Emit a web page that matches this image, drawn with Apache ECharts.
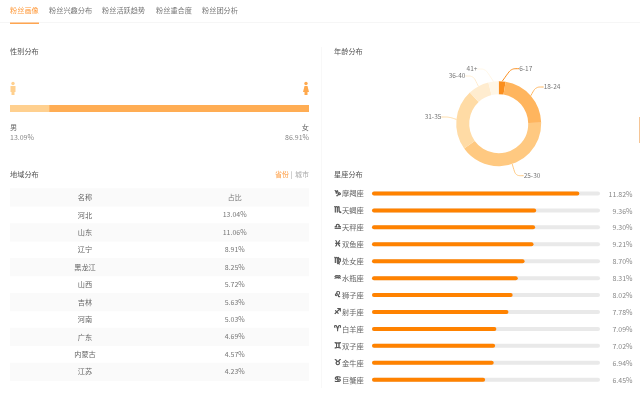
<!DOCTYPE html>
<html><head><meta charset="utf-8">
<style>html,body{margin:0;padding:0;background:#fff}#c{width:640px;height:396px}</style>
<script src="https://cdn.jsdelivr.net/npm/echarts@6/dist/echarts.min.js"></script>
</head><body><div id="c"></div>
<script>
const tabs=['粉丝画像','粉丝兴趣分布','粉丝活跃趋势','粉丝重合度','粉丝团分析'];
const tabX=[10,49,102,156,202];
const genderNames=['男','女'];
const genderValues=[13.09,86.91];
const ageNames=['6-17','18-24','25-30','31-35','36-40','41+'];
const ageValues=[2.6,22,40.5,23,8,3.9];
const ageColors=['#FA8E1E','#FFB55E','#FFC981','#FFDBA5','#FFECCF','#FFF6E6'];
const provinces=['河北','山东','辽宁','黑龙江','山西','吉林','河南','广东','内蒙古','江苏'];
const provinceValues=[13.04,11.06,8.91,8.25,5.72,5.63,5.03,4.69,4.57,4.23];
const signs=['摩羯座','天蝎座','天秤座','双鱼座','处女座','水瓶座','狮子座','射手座','白羊座','双子座','金牛座','巨蟹座'];
const signGlyphs=['♑','♏','♎','♓','♍','♒','♌','♐','♈','♊','♉','♋'];
const signValues=[11.82,9.36,9.30,9.21,8.70,8.31,8.02,7.78,7.09,7.02,6.94,6.45];
const FONT='"Noto Sans CJK SC","Noto Sans",sans-serif';
const T=(x,y,text,fill,size,align)=>({type:'text',x,y,silent:true,style:{text,fill:fill||'#777',font:(size||7.2)+'px '+FONT,textAlign:align||'left',textVerticalAlign:'middle'}});
const R=(x,y,w,h,fill)=>({type:'rect',silent:true,shape:{x,y,width:w,height:h},style:{fill}});
const g=[];
tabs.forEach((t,i)=>g.push(T(tabX[i],10.5,t,i===0?'#FF9A3C':'#777',7.2)));
g.push(R(0,22,640,1,'#F6F6F6'),R(10,22.5,29,1.5,'#FFA550'));
g.push(R(321,47,1,341,'#F8F8F8'),R(639,117,1,26,'#F5C596'));
g.push(T(10,51,'性别分布','#555',7.2),T(334,51,'年龄分布','#555',7.2),T(10,174,'地域分布','#555',7.2),T(334,174,'星座分布','#555',7.2));
g.push(T(10,127,genderNames[0],'#666',7.2),T(10,137.5,genderValues[0].toFixed(2)+'%','#888',7));
g.push(T(309,127,genderNames[1],'#666',7.2,'right'),T(309,137.5,genderValues[1].toFixed(2)+'%','#888',7,'right'));
const person=(x,fill,skirt)=>[
 {type:'circle',silent:true,shape:{cx:x,cy:83.5,r:1.7},style:{fill}},
 skirt?{type:'polygon',silent:true,shape:{points:[[x-1.5,86],[x+1.5,86],[x+3,92],[x+1.5,92],[x+1.5,95],[x-1.5,95],[x-1.5,92],[x-3,92]]},style:{fill}}
      :R(x-2.5,86,5,6,fill),
 ...(skirt?[]:[R(x-1.5,92,3,3,fill)])];
g.push(...person(13,'#FFD08F',false),...person(306,'#FFA94D',true));
g.push(T(275,174,'省份','#FF9A3C',7),T(290.8,174,'|','#999',7),T(295,174,'城市','#AAA',7));
const rowH=17.44,top0=188.3;
[['名称','占比']].concat(provinces.map((p,i)=>[p,provinceValues[i].toFixed(2)+'%'])).forEach((r,i)=>{
  if(i%2===0) g.push(R(10,top0+i*rowH,299,18.2,'#FAFAFA'));
  const y=top0+i*rowH+rowH/2+0.3;
  g.push(T(85,y,r[0],'#666',7.2,'center'),T(234.7,y,r[1],'#777',7,'center'));
});
const chart=echarts.init(document.getElementById('c'),null,{renderer:'canvas'});
const labelSpots=[[525.7,68.7],[552,87],[532,175.7],[433,117],[457,76],[472,69]];
chart.setOption({
 animation:false,
 graphic:{elements:g},
 grid:[
  {left:10,top:105,width:299,height:7},
  {left:372,top:185,width:228,height:203.2}
 ],
 xAxis:[
  {gridIndex:0,type:'value',min:0,max:100,show:false},
  {gridIndex:1,type:'value',min:0,max:13,show:false}
 ],
 yAxis:[
  {gridIndex:0,type:'category',data:['性别'],show:false},
  {gridIndex:1,type:'category',inverse:true,data:signs,axisLine:{show:false},axisTick:{show:false},
   axisLabel:{margin:38,align:'left',formatter:(v,i)=>'{g|'+signGlyphs[i]+'}{t|'+v+'}',
    rich:{g:{fontFamily:'"DejaVu Sans"',fontWeight:'bold',fontSize:8,lineHeight:10,color:'#555',textBorderColor:'#555',textBorderWidth:0.5,width:8},t:{fontFamily:FONT,fontSize:7.3,lineHeight:10,color:'#666'}}}},
 ],
 series:[
  {type:'bar',xAxisIndex:0,yAxisIndex:0,stack:'g',barWidth:7,data:[genderValues[0]],itemStyle:{color:'#FFD08F'},silent:true},
  {type:'bar',xAxisIndex:0,yAxisIndex:0,stack:'g',barWidth:7,data:[genderValues[1]],itemStyle:{color:'#FFAD54'},silent:true},
  {type:'bar',xAxisIndex:1,yAxisIndex:1,barWidth:4,data:signValues,silent:true,
   showBackground:true,backgroundStyle:{color:'#E9E9E9',borderRadius:2},
   itemStyle:{color:'#FF8200',borderRadius:2}},
  {type:'pie',center:[498.7,123.7],radius:[29.5,42.5],startAngle:90,clockwise:true,silent:true,
   data:ageNames.map((n,i)=>({name:n,value:ageValues[i],itemStyle:{color:ageColors[i]},labelLine:{lineStyle:{color:ageColors[i]}}})),
   label:{color:'#777',fontSize:6.5,fontFamily:FONT,formatter:'{b}'},
   labelLine:{show:true,length:6,length2:8,smooth:0.3,lineStyle:{width:1}},
   labelLayout:p=>{const s=labelSpots[p.dataIndex];return {x:s[0],y:s[1],align:'center',verticalAlign:'middle'};}}
 ]
});
chart.setOption({graphic:{elements:g.concat(signValues.map((v,i)=>T(632.5,chart.convertToPixel({yAxisIndex:1},signs[i])+0.5,v.toFixed(2)+'%','#888',7,'right')))}});
</script></body></html>
